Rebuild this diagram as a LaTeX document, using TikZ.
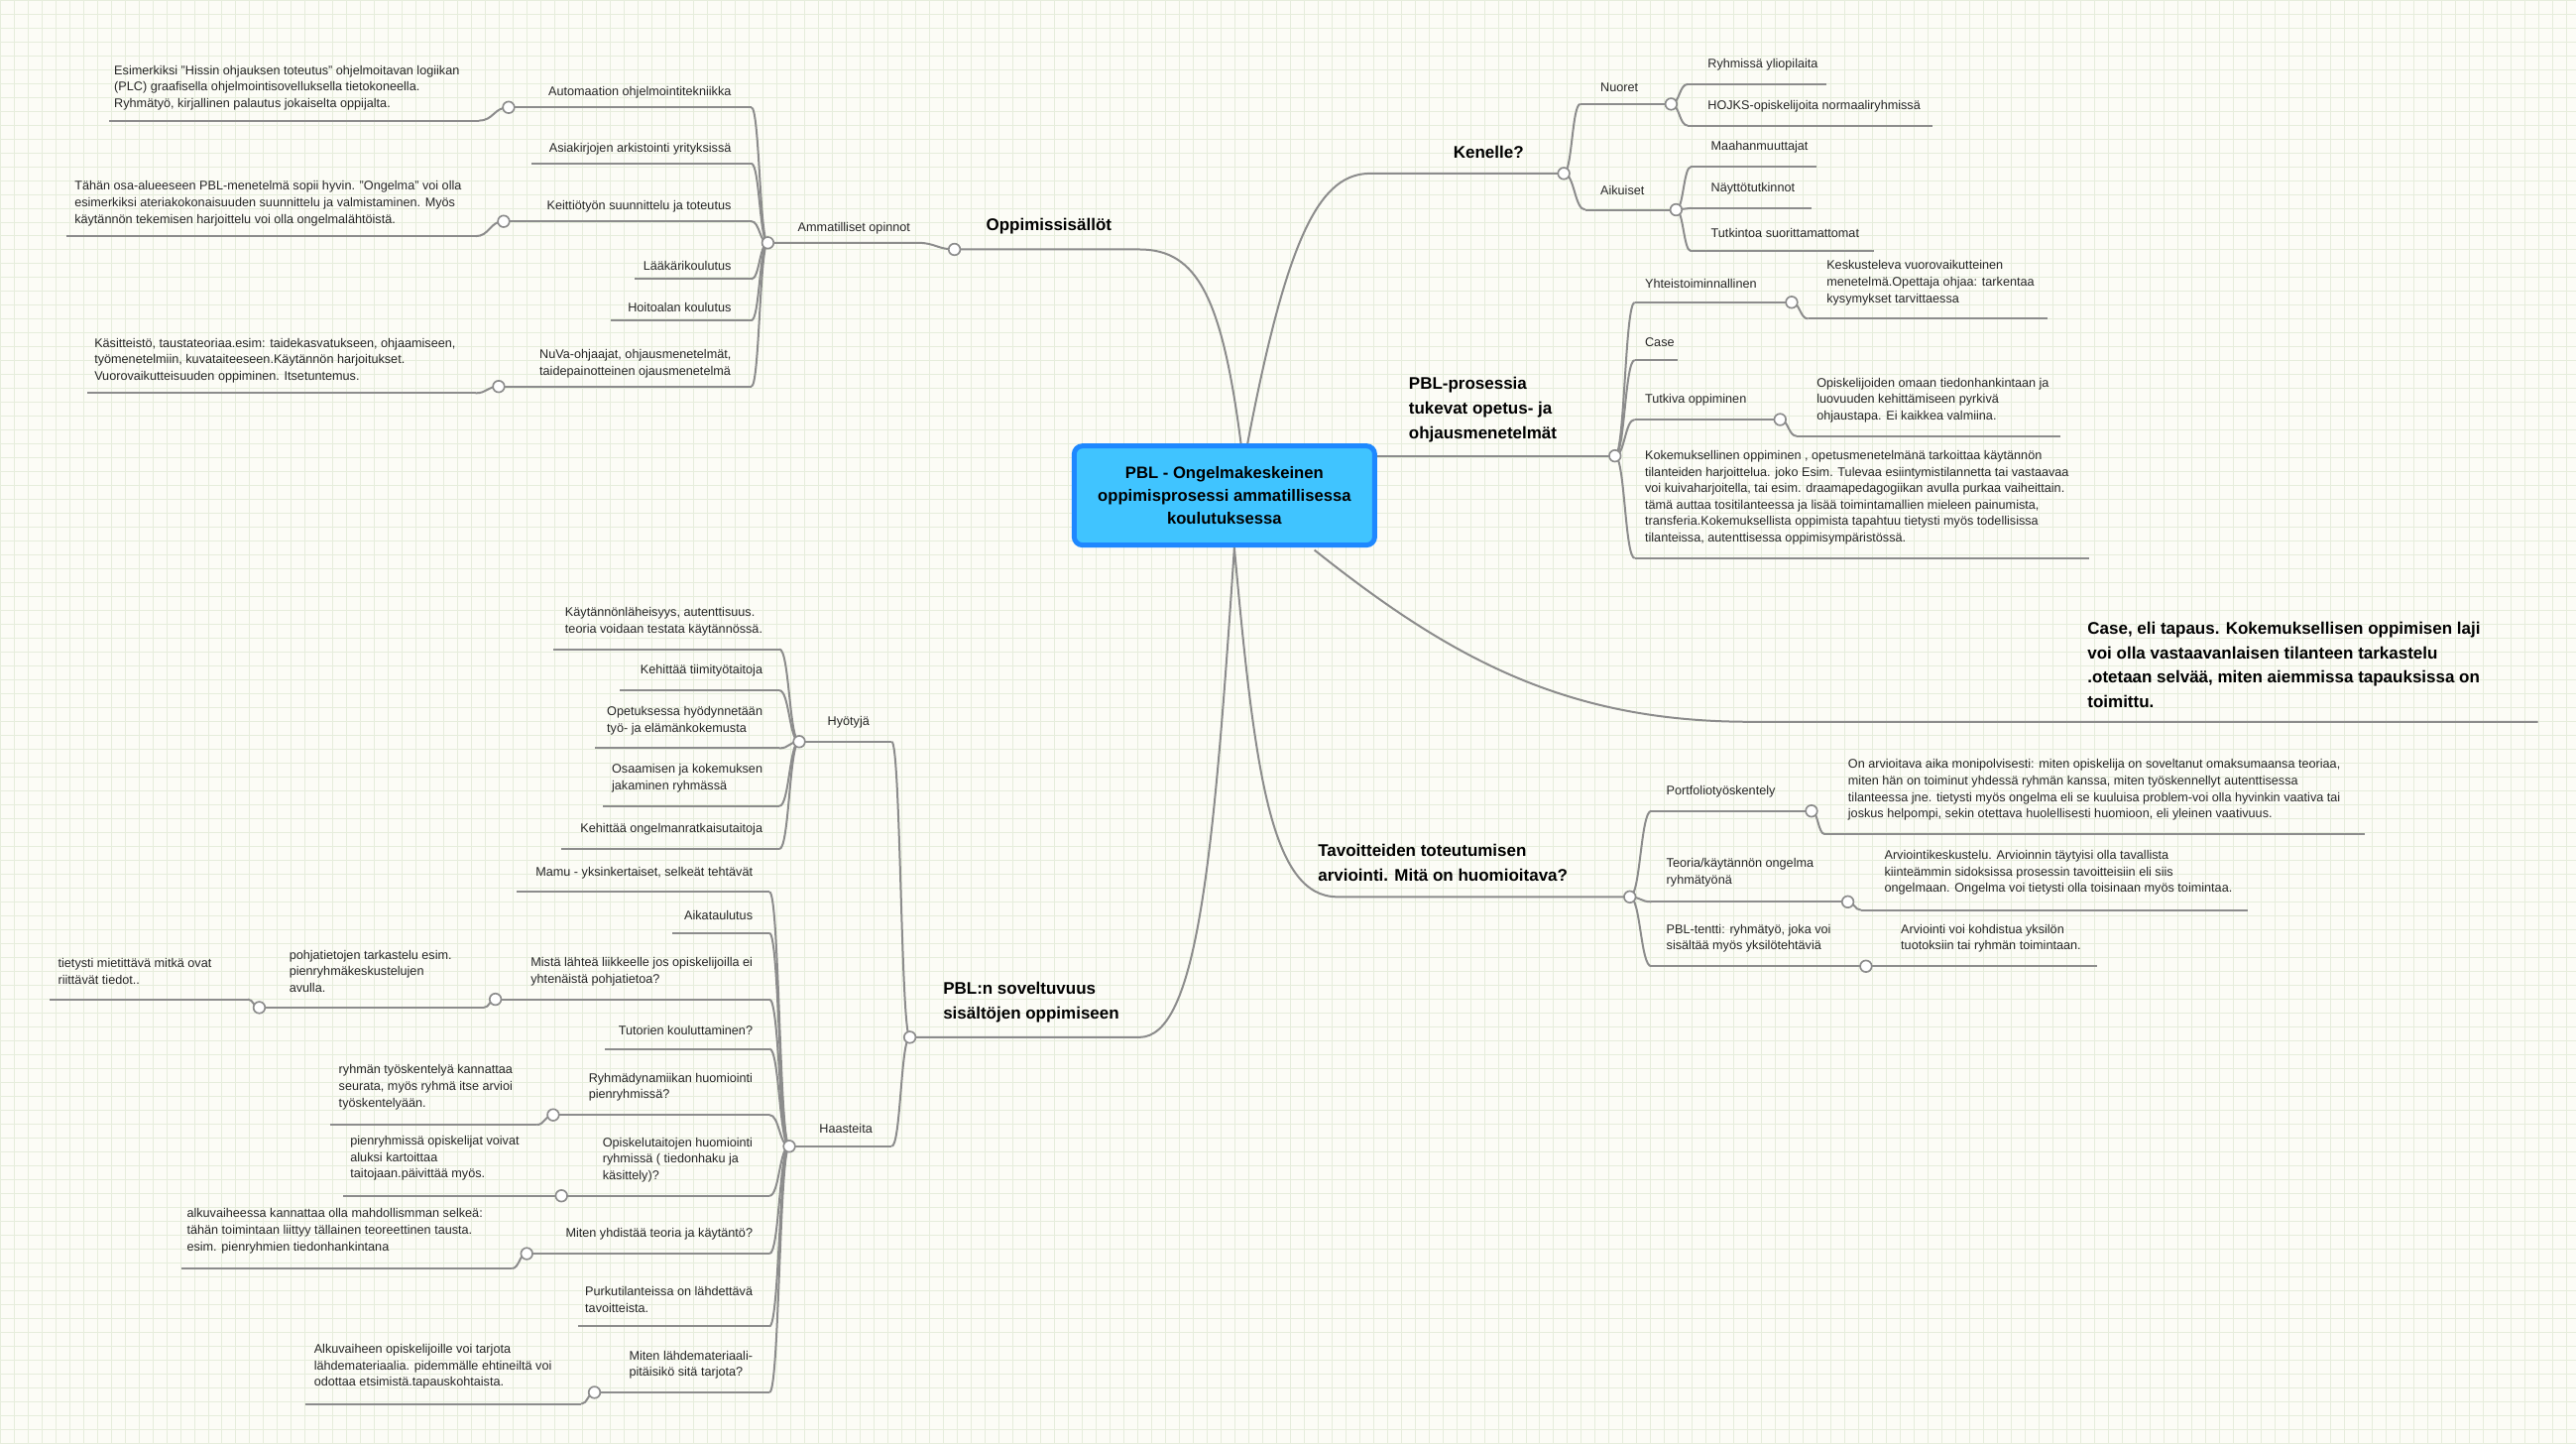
\documentclass[tikz,border=0pt]{standalone}
\usepackage{fontspec}
\setmainfont{Liberation Sans}
\usetikzlibrary{calc}
\definecolor{lc}{HTML}{8C8C8C}
\definecolor{gridc}{HTML}{E6EDDC}
\definecolor{bgc}{HTML}{FCFCF6}
\definecolor{cfill}{HTML}{40C4FF}
\definecolor{cdraw}{HTML}{1E88FF}
\tikzset{
 ln/.style={draw=lc,line width=1.2pt},
 txt/.style={font=\fontsize{7.6}{10}\selectfont,inner sep=0pt,align=left,text=black!85},
 ttl/.style={font=\bfseries\fontsize{10.2}{15}\selectfont,inner sep=0pt,align=left,text=black},
 jn/.style={circle,draw=lc,fill=white,inner sep=0pt,minimum size=7pt,line width=1pt},
 ctr/.style={draw=cdraw,line width=3pt,fill=cfill,rounded corners=5pt,minimum width=182pt,minimum height=60pt,align=center,font=\bfseries\fontsize{10}{14}\selectfont}
}
\newcommand\cn[2]{\draw[ln] (#1) .. controls ($(#1)!.5!(#2|-#1)$) and ($(#1|-#2)!.5!(#2)$) .. (#2);}
\newcommand\ul[4]{\coordinate (#1) at (#2,#4); \draw[ln] (#2,#4) -- (#3,#4);}
\begin{document}
\begin{tikzpicture}[x=1pt,y=-1pt]
\useasboundingbox (0,0) rectangle (1560,873.7);
\fill[bgc] (0,0) rectangle (1560,873.7);
\draw[gridc,line width=0.4pt,step=8.4pt] (0,0) grid (1560,873.7);

% center
\node[ctr] (c) at (741.5,300) {PBL - Ongelmakeskeinen\\oppimisprosessi ammatillisessa\\koulutuksessa};

% junction coordinates
\coordinate (J1) at (578,151);
\coordinate (JA) at (465,147);
\coordinate (JK) at (947,105);
\coordinate (JN) at (1012,63);
\coordinate (JAi) at (1015,127);
\coordinate (JP) at (978,276);
\coordinate (JT) at (987,543);
\coordinate (JS) at (551,628);
\coordinate (JH) at (484,449);
\coordinate (JHa) at (478,694);

% main branches
\draw[ln] (c.north)++(10,0) .. controls (740,180) and (725,151) .. (690,151) -- (J1);
\draw[ln] (c.north)++(14,0) .. controls (780,140) and (800,105) .. (830,105) -- (JK);
\draw[ln] (834,276) -- (JP);
\draw[ln] (796,333) .. controls (880,400) and (950,437) .. (1060,437) -- (1537,437);
\draw[ln] (c.south)++(6,0) .. controls (760,470) and (770,543) .. (810,543) -- (JT);
\draw[ln] (c.south)++(6,0) .. controls (735,520) and (725,628) .. (690,628) -- (JS);

\node[ttl,anchor=south west] (t1) at (597,142) {Oppimissisällöt};
\node[ttl,anchor=south west] (t2) at (880,96) {Kenelle?};
\node[ttl,anchor=south west] (t3) at (853,268) {PBL-prosessia\\tukevat opetus- ja\\ohjausmenetelmät};
\node[ttl,anchor=south west] (t4) at (1264,429) {Case, eli tapaus. Kokemuksellisen oppimisen laji\\voi olla vastaavanlaisen tilanteen tarkastelu\\.otetaan selvää, miten aiemmissa tapauksissa on\\toimittu.};
\node[ttl,anchor=south west] (t5) at (798,534) {Tavoitteiden toteutumisen\\arviointi. Mitä on huomioitava?};
\node[ttl,anchor=south west] (t6) at (571,619) {PBL:n soveltuvuus\\sisältöjen oppimiseen};

% Ammatilliset
\draw[ln] (JA) -- (556,147) .. controls (566,147) and (568,151) .. (J1);
\node[txt,anchor=south west] (am) at (483,142) {Ammatilliset opinnot};
\ul{a1}{455}{308}{65} \cn{JA}{a1}
\ul{a2}{455}{322}{99} \cn{JA}{a2}
\ul{a3}{455}{305}{134} \cn{JA}{a3}
\ul{a4}{455}{384}{169} \cn{JA}{a4}
\ul{a5}{455}{370}{194} \cn{JA}{a5}
\ul{a6}{455}{302}{234} \cn{JA}{a6}
\node[txt,anchor=south east] at (443,60) {Automaation ohjelmointitekniikka};
\node[txt,anchor=south east] at (443,94) {Asiakirjojen arkistointi yrityksissä};
\node[txt,anchor=south east] at (443,129) {Keittiötyön suunnittelu ja toteutus};
\node[txt,anchor=south east] at (443,164) {Lääkärikoulutus};
\node[txt,anchor=south east] at (443,189) {Hoitoalan koulutus};
\node[txt,anchor=south east] at (443,229) {NuVa-ohjaajat, ohjausmenetelmät,\\taidepainotteinen ojausmenetelmä};
\coordinate (c1) at (308,65); \coordinate (c3) at (305,134); \coordinate (c6) at (302,234);
\ul{l1}{290}{66}{73} \cn{c1}{l1}
\ul{l3}{288}{40}{143} \cn{c3}{l3}
\ul{l6}{288}{53}{238} \cn{c6}{l6}
\node[txt,anchor=south west] at (69,67) {Esimerkiksi "Hissin ohjauksen toteutus" ohjelmoitavan logiikan\\(PLC) graafisella ohjelmointisovelluksella tietokoneella.\\Ryhmätyö, kirjallinen palautus jokaiselta oppijalta.};
\node[txt,anchor=south west] at (45,137) {Tähän osa-alueeseen PBL-menetelmä sopii hyvin. "Ongelma" voi olla\\esimerkiksi ateriakokonaisuuden suunnittelu ja valmistaminen. Myös\\käytännön tekemisen harjoittelu voi olla ongelmalähtöistä.};
\node[txt,anchor=south west] at (57,232) {Käsitteistö, taustateoriaa.esim: taidekasvatukseen, ohjaamiseen,\\työmenetelmiin, kuvataiteeseen.Käytännön harjoitukset.\\Vuorovaikutteisuuden oppiminen. Itsetuntemus.};

% Kenelle
\ul{k1}{957}{1012}{63} \cn{JK}{k1}
\ul{k2}{960}{1015}{127} \cn{JK}{k2}
\node[txt,anchor=south west] at (969,56) {Nuoret};
\node[txt,anchor=south west] at (969,118) {Aikuiset};
\ul{n1}{1022}{1106}{51} \cn{JN}{n1}
\ul{n2}{1022}{1170}{76} \cn{JN}{n2}
\ul{m1}{1024}{1100}{101} \cn{JAi}{m1}
\ul{m2}{1024}{1097}{126} \cn{JAi}{m2}
\ul{m3}{1024}{1135}{152} \cn{JAi}{m3}
\node[txt,anchor=south west] at (1034,43) {Ryhmissä yliopilaita};
\node[txt,anchor=south west] at (1034,68) {HOJKS-opiskelijoita normaaliryhmissä};
\node[txt,anchor=south west] at (1036,93) {Maahanmuuttajat};
\node[txt,anchor=south west] at (1036,118) {Näyttötutkinnot};
\node[txt,anchor=south west] at (1036,144) {Tutkintoa suorittamattomat};

% PBL-prosessia
\ul{p1}{990}{1085}{183} \cn{JP}{p1}
\ul{p2}{990}{1016}{218} \cn{JP}{p2}
\ul{p3}{990}{1078}{254} \cn{JP}{p3}
\ul{p4}{990}{1265}{338} \cn{JP}{p4}
\node[txt,anchor=south west] at (996,175) {Yhteistoiminnallinen};
\node[txt,anchor=south west] at (996,210) {Case};
\node[txt,anchor=south west] at (996,246) {Tutkiva oppiminen};
\node[txt,anchor=south west] at (996,330) {Kokemuksellinen oppiminen , opetusmenetelmänä tarkoittaa käytännön\\tilanteiden harjoittelua. joko Esim. Tulevaa esiintymistilannetta tai vastaavaa\\voi kuivaharjoitella, tai esim. draamapedagogiikan avulla purkaa vaiheittain.\\tämä auttaa tositilanteessa ja lisää toimintamallien mieleen painumista,\\transferia.Kokemuksellista oppimista tapahtuu tietysti myös todellisissa\\tilanteissa, autenttisessa oppimisympäristössä.};
\coordinate (cp1) at (1085,183); \coordinate (cp3) at (1078,254);
\ul{q1}{1095}{1240}{193} \cn{cp1}{q1}
\ul{q3}{1088}{1248}{264} \cn{cp3}{q3}
\node[txt,anchor=south west] at (1106,185) {Keskusteleva vuorovaikutteinen\\menetelmä.Opettaja ohjaa: tarkentaa\\kysymykset tarvittaessa};
\node[txt,anchor=south west] at (1100,256) {Opiskelijoiden omaan tiedonhankintaan ja\\luovuuden kehittämiseen pyrkivä\\ohjaustapa. Ei kaikkea valmiina.};

% Tavoitteiden
\ul{v1}{1000}{1097}{491} \cn{JT}{v1}
\ul{v2}{1000}{1119}{546} \cn{JT}{v2}
\ul{v3}{1000}{1130}{585} \cn{JT}{v3}
\node[txt,anchor=south west] at (1009,483) {Portfoliotyöskentely};
\node[txt,anchor=south west] at (1009,537) {Teoria/käytännön ongelma\\ryhmätyönä};
\node[txt,anchor=south west] at (1009,577) {PBL-tentti: ryhmätyö, joka voi\\sisältää myös yksilötehtäviä};
\coordinate (cv1) at (1097,491); \coordinate (cv2) at (1119,546); \coordinate (cv3) at (1130,585);
\ul{w1}{1105}{1432}{505} \cn{cv1}{w1}
\ul{w2}{1127}{1361}{551} \cn{cv2}{w2}
\ul{w3}{1138}{1270}{585} \cn{cv3}{w3}
\node[txt,anchor=south west] at (1119,497) {On arvioitava aika monipolvisesti: miten opiskelija on soveltanut omaksumaansa teoriaa,\\miten hän on toiminut yhdessä ryhmän kanssa, miten työskennellyt autenttisessa\\tilanteessa jne. tietysti myös ongelma eli se kuuluisa problem-voi olla hyvinkin vaativa tai\\joskus helpompi, sekin otettava huolellisesti huomioon, eli yleinen vaativuus.};
\node[txt,anchor=south west] at (1141,542) {Arviointikeskustelu. Arvioinnin täytyisi olla tavallista\\kiinteämmin sidoksissa prosessin tavoitteisiin eli siis\\ongelmaan. Ongelma voi tietysti olla toisinaan myös toimintaa.};
\node[txt,anchor=south west] at (1151,577) {Arviointi voi kohdistua yksilön\\tuotoksiin tai ryhmän toimintaan.};

% PBL:n soveltuvuus
\ul{s1}{540}{484}{449} \cn{JS}{s1}
\ul{s2}{540}{478}{694} \cn{JS}{s2}
\node[txt,anchor=south west] at (501,441) {Hyötyjä};
\node[txt,anchor=south west] at (496,686) {Haasteita};
\ul{h1}{472}{335}{393} \cn{JH}{h1}
\ul{h2}{472}{375}{418} \cn{JH}{h2}
\ul{h3}{472}{360}{453} \cn{JH}{h3}
\ul{h4}{472}{365}{488} \cn{JH}{h4}
\ul{h5}{472}{340}{514} \cn{JH}{h5}
\node[txt,anchor=south east] at (462,385) {Käytännönläheisyys, autenttisuus.\\teoria voidaan testata käytännössä.};
\node[txt,anchor=south east] at (462,410) {Kehittää tiimityötaitoja};
\node[txt,anchor=south east] at (462,445) {Opetuksessa hyödynnetään\\työ- ja elämänkokemusta};
\node[txt,anchor=south east] at (462,480) {Osaamisen ja kokemuksen\\jakaminen ryhmässä};
\node[txt,anchor=south east] at (462,506) {Kehittää ongelmanratkaisutaitoja};

\ul{g1}{466}{313}{540} \cn{JHa}{g1}
\ul{g2}{466}{407}{565} \cn{JHa}{g2}
\ul{g3}{466}{300}{605} \cn{JHa}{g3}
\ul{g4}{466}{366}{635} \cn{JHa}{g4}
\ul{g5}{466}{335}{675} \cn{JHa}{g5}
\ul{g6}{466}{340}{724} \cn{JHa}{g6}
\ul{g7}{466}{319}{759} \cn{JHa}{g7}
\ul{g8}{466}{350}{803} \cn{JHa}{g8}
\ul{g9}{466}{360}{843} \cn{JHa}{g9}
\node[txt,anchor=south east] at (456,532) {Mamu - yksinkertaiset, selkeät tehtävät};
\node[txt,anchor=south east] at (456,557) {Aikataulutus};
\node[txt,anchor=south east] at (456,597) {Mistä lähteä liikkeelle jos opiskelijoilla ei\\yhtenäistä pohjatietoa?};
\node[txt,anchor=south east] at (456,627) {Tutorien kouluttaminen?};
\node[txt,anchor=south east] at (456,667) {Ryhmädynamiikan huomiointi\\pienryhmissä?};
\node[txt,anchor=south east] at (456,716) {Opiskelutaitojen huomiointi\\ryhmissä ( tiedonhaku ja\\käsittely)?};
\node[txt,anchor=south east] at (456,751) {Miten yhdistää teoria ja käytäntö?};
\node[txt,anchor=south east] at (456,795) {Purkutilanteissa on lähdettävä\\tavoitteista.};
\node[txt,anchor=south east] at (456,835) {Miten lähdemateriaali-\\pitäisikö sitä tarjota?};

\coordinate (cg3) at (300,605); \coordinate (cg5) at (335,675); \coordinate (cg6) at (340,724);
\coordinate (cg7) at (319,759); \coordinate (cg9) at (360,843); \coordinate (cp) at (157,610);
\ul{r3}{293}{157}{610} \cn{cg3}{r3}
\ul{r0}{150}{30}{605} \cn{cp}{r0}
\ul{r5}{325}{200}{681} \cn{cg5}{r5}
\ul{r6}{334}{208}{724} \cn{cg6}{r6}
\ul{r7}{310}{110}{768} \cn{cg7}{r7}
\ul{r9}{352}{185}{850} \cn{cg9}{r9}
\node[txt,anchor=south west] at (175,601) {pohjatietojen tarkastelu esim.\\pienryhmäkeskustelujen\\ avulla.};
\node[txt,anchor=south west] at (35,596) {tietysti mietittävä mitkä ovat\\riittävät tiedot..};
\node[txt,anchor=south west] at (205,672) {ryhmän työskentelyä kannattaa\\seurata, myös ryhmä itse arvioi\\työskentelyään.};
\node[txt,anchor=south west] at (212,715) {pienryhmissä opiskelijat voivat\\aluksi kartoittaa\\taitojaan.päivittää myös.};
\node[txt,anchor=south west] at (113,759) {alkuvaiheessa kannattaa olla mahdollismman selkeä:\\tähän toimintaan liittyy tällainen teoreettinen tausta.\\esim. pienryhmien tiedonhankintana};
\node[txt,anchor=south west] at (190,841) {Alkuvaiheen opiskelijoille voi tarjota\\lähdemateriaalia. pidemmälle ehtineiltä voi\\odottaa etsimistä.tapauskohtaista.};

% junction circles
\foreach \p in {J1,JA,JK,JN,JAi,JP,JT,JS,JH,JHa,c1,c3,c6,cp1,cp3,cv1,cv2,cv3,cg3,cg5,cg6,cg7,cg9,cp}
  \node[jn] at (\p) {};
\end{tikzpicture}
\end{document}
